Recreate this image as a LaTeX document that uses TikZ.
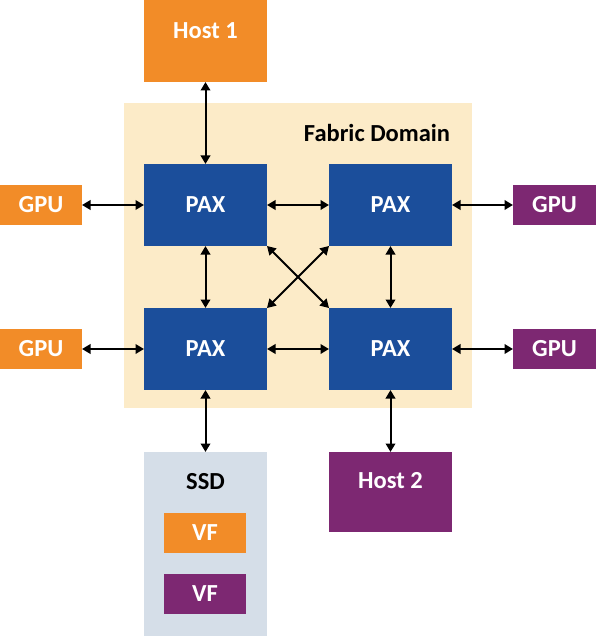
\documentclass[tikz,border=0pt]{standalone}
\usepackage{fontspec}
\setmainfont{Carlito}
\usetikzlibrary{arrows.meta}
\definecolor{org}{HTML}{F28C28}
\definecolor{pax}{HTML}{1B4E9B}
\definecolor{pur}{HTML}{7D2872}
\definecolor{fab}{HTML}{FCEBC8}
\definecolor{ssdc}{HTML}{D5DEE8}
\begin{document}
\begin{tikzpicture}[x=1pt,y=-1pt,
  box/.style={rectangle, inner sep=0pt, outer sep=0pt, anchor=north west},
  big/.style={box, minimum width=123pt, minimum height=82pt},
  small/.style={box, minimum width=82pt, minimum height=40pt},
  wtxt/.style={text=white, font=\bfseries\fontsize{24.5}{26}\selectfont},
  btxt/.style={text=black, font=\bfseries\fontsize{24.5}{26}\selectfont},
  arr/.style={line width=2pt, {Triangle[length=8.5pt,width=9.5pt]}-{Triangle[length=8.5pt,width=9.5pt]}}]
\useasboundingbox (0,0) rectangle (596,636);
\fill[white] (0,0) rectangle (596,636);
% backgrounds
\node[box, fill=fab, minimum width=348pt, minimum height=305pt] (fabric) at (124,103) {};
\node[btxt] (fabtxt) at (377,133) {Fabric Domain};
\node[box, fill=ssdc, minimum width=123pt, minimum height=184pt] (ssd) at (144,452) {};
\node[btxt] (ssdtxt) at (205.5,482) {SSD};
% hosts
\node[big, fill=org] (host1) at (144,0) {};
\node[wtxt] (host1txt) at (205.5,31) {Host 1};
\node[big, fill=pur, minimum height=80pt] (host2) at (329,452) {};
\node[wtxt] (host2txt) at (390.5,481) {Host 2};
% PAX
\node[big, fill=pax, wtxt] (ptl) at (144,164) {PAX};
\node[big, fill=pax, wtxt] (ptr) at (329,164) {PAX};
\node[big, fill=pax, wtxt] (pbl) at (144,308) {PAX};
\node[big, fill=pax, wtxt] (pbr) at (329,308) {PAX};
% GPUs
\node[small, fill=org, wtxt] (g1) at (0,185) {GPU};
\node[small, fill=org, wtxt] (g2) at (0,329) {GPU};
\node[small, fill=pur, wtxt, minimum width=83pt] (g3) at (513,185) {GPU};
\node[small, fill=pur, wtxt, minimum width=83pt] (g4) at (513,329) {GPU};
% VFs
\node[small, fill=org, wtxt] (vf1) at (164,513) {VF};
\node[small, fill=pur, wtxt] (vf2) at (164,574) {VF};
% connectors
\draw[arr] (host1.south) -- (ptl.north);
\draw[arr] (g1.east) -- (ptl.west);
\draw[arr] (g2.east) -- (pbl.west);
\draw[arr] (ptr.east) -- (g3.west);
\draw[arr] (pbr.east) -- (g4.west);
\draw[arr] (ptl.east) -- (ptr.west);
\draw[arr] (pbl.east) -- (pbr.west);
\draw[arr] (ptl.south) -- (pbl.north);
\draw[arr] (ptr.south) -- (pbr.north);
\draw[arr] (ptl.south east) -- (pbr.north west);
\draw[arr] (pbl.north east) -- (ptr.south west);
\draw[arr] (pbl.south) -- (ssd.north);
\draw[arr] (pbr.south) -- (host2.north);
\end{tikzpicture}
\end{document}
